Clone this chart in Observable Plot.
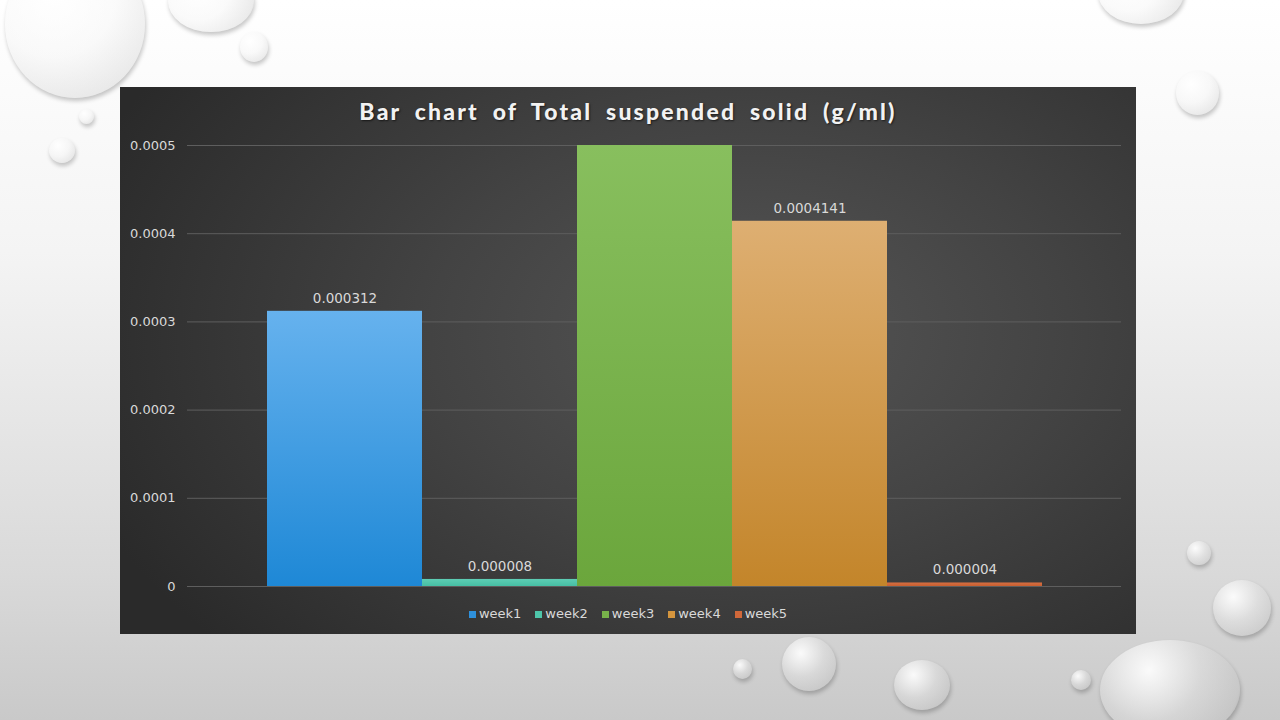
<!DOCTYPE html>
<html>
<head>
<meta charset="utf-8">
<script src="https://cdn.jsdelivr.net/npm/d3@7"></script>
<script src="https://cdn.jsdelivr.net/npm/@observablehq/plot@0.6"></script>
<style>
  html, body { margin: 0; padding: 0; }
  body { width: 1280px; height: 720px; overflow: hidden; position: relative;
    background: linear-gradient(180deg, #ffffff 0%, #f4f4f4 35%, #d9d9d9 80%, #c9c9c9 100%);
    font-family: "DejaVu Sans", sans-serif; }
  .drop { position: absolute; border-radius: 50%;
    background: radial-gradient(circle at 35% 30%, rgba(255,255,255,0.9) 0%, rgba(240,240,240,0.3) 45%, rgba(190,190,190,0.3) 80%, rgba(110,110,110,0.55) 100%);
    box-shadow: 1px 3px 4px rgba(0,0,0,0.22); }
  #chart { position: absolute; left: 120px; top: 87px; width: 1016px; height: 547px;
    background: radial-gradient(ellipse 70% 85% at 62% 45%, #555555 0%, #434343 45%, #2a2a2a 100%); }
  #title { position: absolute; left: 0; right: 0; top: 10px; text-align: center; color: #f2f2f2;
    font-family: "Lato", "DejaVu Sans", sans-serif; font-weight: 900; font-size: 23px; letter-spacing: 2.2px; word-spacing: 6px;
    text-shadow: 1px 1px 2px rgba(0,0,0,0.6); }
  #legend { position: absolute; left: 0; right: 0; top: 519px; text-align: center; color: #d9d9d9; font-size: 13px; }
  #legend span.item { margin: 0 7px; white-space: nowrap; }
  #legend span.sw { display: inline-block; width: 7px; height: 7px; margin-right: 3px; vertical-align: 0px; }
  #plot { position: absolute; left: 0; top: 0; }
</style>
</head>
<body>
<div class="drop" style="left:5px;top:-50px;width:140px;height:148px;"></div>
<div class="drop" style="left:168px;top:-30px;width:86px;height:62px;"></div>
<div class="drop" style="left:240px;top:32px;width:28px;height:30px;"></div>
<div class="drop" style="left:79px;top:109px;width:15px;height:15px;"></div>
<div class="drop" style="left:49px;top:138px;width:26px;height:25px;"></div>
<div class="drop" style="left:1098px;top:-40px;width:86px;height:64px;"></div>
<div class="drop" style="left:1176px;top:71px;width:43px;height:44px;"></div>
<div class="drop" style="left:1187px;top:541px;width:24px;height:24px;"></div>
<div class="drop" style="left:1213px;top:580px;width:58px;height:56px;"></div>
<div class="drop" style="left:1100px;top:640px;width:140px;height:100px;"></div>
<div class="drop" style="left:1071px;top:670px;width:20px;height:20px;"></div>
<div class="drop" style="left:782px;top:637px;width:54px;height:54px;"></div>
<div class="drop" style="left:894px;top:660px;width:56px;height:50px;"></div>
<div class="drop" style="left:733px;top:659px;width:19px;height:20px;"></div>

<div id="chart">
  <div id="plot"></div>
  <div id="title">Bar chart of Total suspended solid (g/ml)</div>
  <div id="legend"></div>
</div>

<script>
// ---- data ----
const weeks = ["week1", "week2", "week3", "week4", "week5"];
const values = [0.000312, 0.000008, 0.0005, 0.0004141, 0.000004];
const valueLabels = ["0.000312", "0.000008", "", "0.0004141", "0.000004"];
const yTicks = [0, 0.0001, 0.0002, 0.0003, 0.0004, 0.0005];
const yTickLabels = ["0", "0.0001", "0.0002", "0.0003", "0.0004", "0.0005"];
const colorsTop = ["#66B2EE", "#5ECDB4", "#88BF5E", "#DEAF72", "#D66F42"];
const colorsBottom = ["#1E88D6", "#46BFA4", "#6BA63C", "#C3852A", "#C85F30"];
const legendColors = ["#2E90DC", "#4EC6AA", "#78B24A", "#D4953E", "#D0683A"];

const data = weeks.map((w, i) => ({week: w, value: values[i], label: valueLabels[i], idx: i}));

const W = 1016, H = 547;
const font = "DejaVu Sans, sans-serif";
const marks = [
  Plot.ruleY(yTicks, {stroke: "#5e5e5e", strokeWidth: 1})
];
weeks.forEach((w, i) => {
  marks.push(Plot.barY(data.filter(d => d.week === w), {x: "week", y: "value", fill: `url(#grad${i})`, inset: 0}));
});
marks.push(Plot.text(data.filter(d => d.label !== ""), {x: "week", y: "value", text: "label", dy: -13,
  fill: "#d9d9d9", fontSize: 13.5, fontFamily: font}));
marks.push(Plot.axisY({ticks: yTicks, tickFormat: (d) => yTickLabels[yTicks.indexOf(d)], tickSize: 0, tickPadding: 12,
  label: null, fill: "#d9d9d9", fontSize: 13, fontFamily: font, textAnchor: "end"}));

const svg = Plot.plot({
  width: W, height: H,
  marginLeft: 67, marginRight: 15, marginTop: 58, marginBottom: 48,
  style: {background: "transparent", overflow: "visible"},
  x: {domain: weeks, range: [146, 923], padding: 0, axis: null},
  y: {domain: [0, 0.0005], nice: false, label: null},
  marks
});

const defs = d3.select(svg).insert("defs", ":first-child");
weeks.forEach((w, i) => {
  const g = defs.append("linearGradient").attr("id", `grad${i}`)
    .attr("x1", 0).attr("y1", 0).attr("x2", 0).attr("y2", 1);
  g.append("stop").attr("offset", "0%").attr("stop-color", colorsTop[i]);
  g.append("stop").attr("offset", "100%").attr("stop-color", colorsBottom[i]);
});
document.getElementById("plot").appendChild(svg);

const legend = document.getElementById("legend");
weeks.forEach((w, i) => {
  const item = document.createElement("span");
  item.className = "item";
  item.innerHTML = `<span class="sw" style="background:${legendColors[i]}"></span>${w}`;
  legend.appendChild(item);
});
</script>
</body>
</html>
